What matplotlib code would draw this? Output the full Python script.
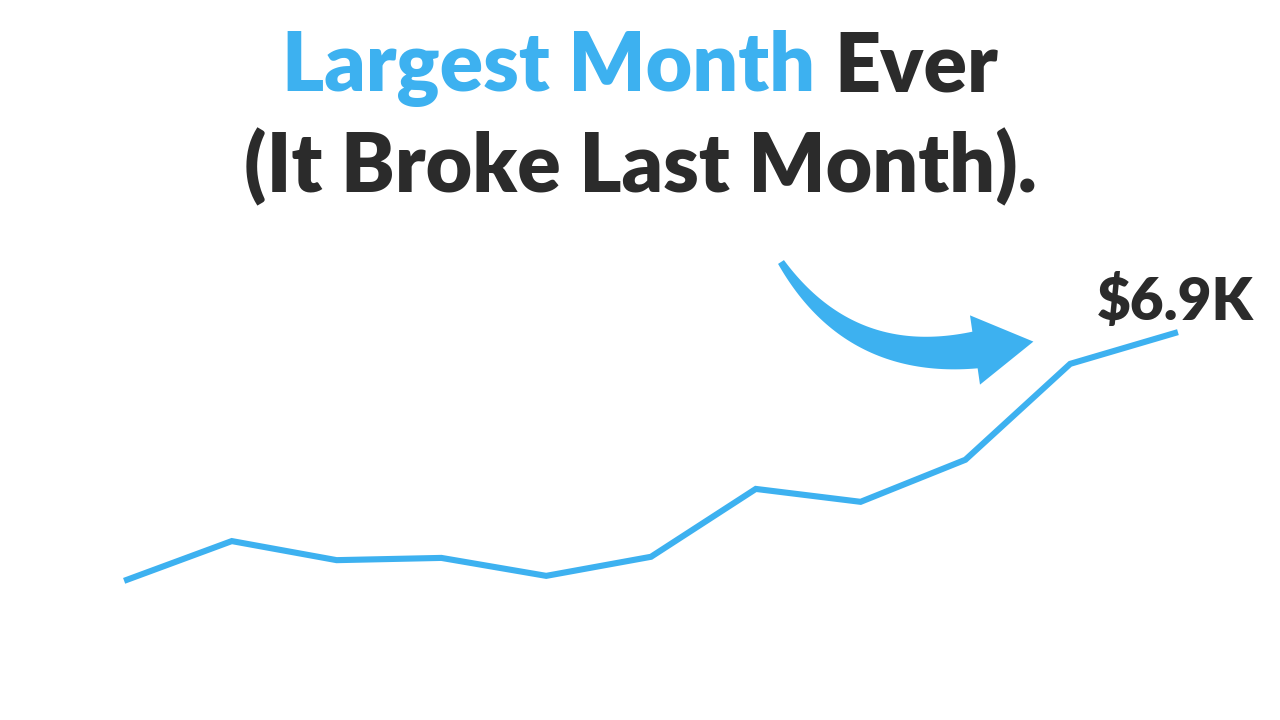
import matplotlib
matplotlib.use("Agg")
import numpy as np
import matplotlib.pyplot as plt
from matplotlib.patches import Polygon

# monthly revenue, thousands of dollars
months = list(range(11))
revenue = [2.50, 3.19, 2.85, 2.89, 2.57, 2.91, 4.12, 3.89, 4.64, 6.35, 6.90]
last_label = "$6.9K"

blue = "#3db1f0"
dark = "#2b2b2b"
plt.rcParams["font.family"] = ["Lato", "DejaVu Sans"]

W, H = 1280, 720
fig = plt.figure(figsize=(12.8, 7.2), dpi=100)
fig.patch.set_facecolor("white")

# overlay in pixel units (y down) for the hand-drawn style arrow
deco = fig.add_axes([0, 0, 1, 1])
deco.set_xlim(0, W)
deco.set_ylim(H, 0)
deco.axis("off")

# axes placed so month 0..10 spans x 127..1175 px and 0..6.9K spans y 720..333 px
ax = fig.add_axes([127 / W, 0, (1175 - 127) / W, (720 - 333) / H])
ax.plot(months, revenue, color=blue, lw=4.4, solid_joinstyle="miter", clip_on=False)
ax.set_xlim(0, 10)
ax.set_ylim(0, 6.9)
ax.axis("off")

ax.annotate(last_label, (months[-1], revenue[-1]), xytext=(0, 9), textcoords="offset points",
            ha="center", va="baseline", fontsize=42, fontweight="heavy", color=dark)

# title: first line in two colours
fig.canvas.draw()
r = fig.canvas.get_renderer()
size1 = 58
t1 = fig.text(0, 1 - 91 / H, "Largest Month ", fontsize=size1, fontweight="heavy", color=blue, ha="left", va="baseline")
t2 = fig.text(0, 1 - 91 / H, "Ever", fontsize=size1, fontweight="heavy", color=dark, ha="left", va="baseline")
w1 = t1.get_window_extent(r).width
w2 = t2.get_window_extent(r).width
x0 = (W - (w1 + w2)) / 2
t1.set_x(x0 / W)
t2.set_x((x0 + w1) / W)
fig.text(0.5, 1 - 192 / H, "(It Broke Last Month).", fontsize=size1, fontweight="heavy", color=dark,
         ha="center", va="baseline")

# curved arrow: tapered quadratic shaft plus triangular head
p0, p1, p2 = np.array([781, 262.]), np.array([850, 368.]), np.array([975, 350.])
t = np.linspace(0, 1, 60)[:, None]
centre = (1 - t) ** 2 * p0 + 2 * (1 - t) * t * p1 + t ** 2 * p2
tang = 2 * (1 - t) * (p1 - p0) + 2 * t * (p2 - p1)
tang /= np.linalg.norm(tang, axis=1, keepdims=True)
norm = np.column_stack([-tang[:, 1], tang[:, 0]])
half = (3.5 + 15 * t)
upper = centre + norm * half
lower = centre - norm * half
d = tang[-1]
n = norm[-1]
head = [p2 + n * 35, p2 + d * 59, p2 - n * 35]
shape = np.vstack([upper, head, lower[::-1]])
deco.add_patch(Polygon(shape, closed=True, color=blue, lw=0))

fig.savefig("out.png", dpi=100, facecolor="white")
